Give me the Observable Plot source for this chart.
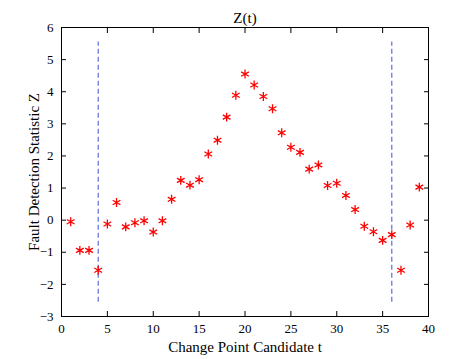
<!DOCTYPE html>
<html>
<head>
<meta charset="utf-8">
<script src="https://cdn.jsdelivr.net/npm/d3@7"></script>
<script src="https://cdn.jsdelivr.net/npm/@observablehq/plot@0.6"></script>
<style>
  html, body { margin: 0; padding: 0; background: #fff; }
  svg { display: block; }
</style>
</head>
<body>
<div id="chart"></div>
<script>
const t = d3.range(1, 40);
const z = [-0.05, -0.94, -0.94, -1.56, -0.12, 0.55, -0.21, -0.08, -0.02, -0.37,
           -0.02, 0.65, 1.24, 1.09, 1.26, 2.06, 2.49, 3.21, 3.89, 4.55,
           4.21, 3.85, 3.47, 2.72, 2.27, 2.11, 1.59, 1.72, 1.08, 1.15,
           0.77, 0.33, -0.19, -0.36, -0.63, -0.45, -1.56, -0.15, 1.03];
const changePoints = [4, 36];
const xTicks = d3.range(0, 41, 5);
const yTicks = d3.range(-3, 7, 1);

const points = t.map((ti, i) => ({t: ti, z: z[i]}));
const lo = d3.min(z) - 1, hi = d3.max(z) + 1;
const cps = changePoints.map(c => ({t: c, y1: lo, y2: hi}));

const font = "'Liberation Serif', 'Times New Roman', serif";

const chart = Plot.plot({
  width: 474,
  height: 359,
  marginLeft: 61,
  marginRight: 46,
  marginTop: 27,
  marginBottom: 43,
  style: {fontFamily: font, fontSize: "13px", background: "#fff", color: "#000"},
  x: {domain: [0, 40]},
  y: {domain: [-3, 6]},
  marks: [
    Plot.frame({stroke: "#000", strokeWidth: 1}),
    // inward tick marks on all four sides
    Plot.axisX(xTicks, {anchor: "bottom", tickSize: -5, tickFormat: () => "", label: null}),
    Plot.axisX(xTicks, {anchor: "top", tickSize: -5, tickFormat: () => "", label: null}),
    Plot.axisY(yTicks, {anchor: "left", tickSize: -5, tickFormat: () => "", label: null}),
    Plot.axisY(yTicks, {anchor: "right", tickSize: -5, tickFormat: () => "", label: null}),
    // tick labels
    Plot.axisX(xTicks, {anchor: "bottom", tickSize: 0, tickPadding: 7, fontSize: 13, label: null}),
    Plot.axisY(yTicks, {anchor: "left", tickSize: 0, tickPadding: 8, fontSize: 13, label: null}),
    // axis titles
    Plot.text(["Change Point Candidate t"], {frameAnchor: "bottom", lineAnchor: "bottom", dy: 35, fontSize: 15, fill: "#000"}),
    Plot.text(["Fault Detection Statistic Z"], {frameAnchor: "left", textAnchor: "middle", lineAnchor: "top", dx: -33, rotate: -90, fontSize: 15, fill: "#000"}),
    Plot.text(["Z(t)"], {frameAnchor: "top", lineAnchor: "bottom", dy: -5, fontSize: 15, fill: "#000"}),
    Plot.ruleX(cps, {x: "t", y1: "y1", y2: "y2", stroke: "#4b63dc", strokeWidth: 1.1, strokeDasharray: "5,3"}),
    Plot.dot(points, {x: "t", y: "z", symbol: "asterisk", r: 4.2, stroke: "#ff0000", strokeWidth: 1.3})
  ]
});
document.getElementById("chart").appendChild(chart);
</script>
</body>
</html>
